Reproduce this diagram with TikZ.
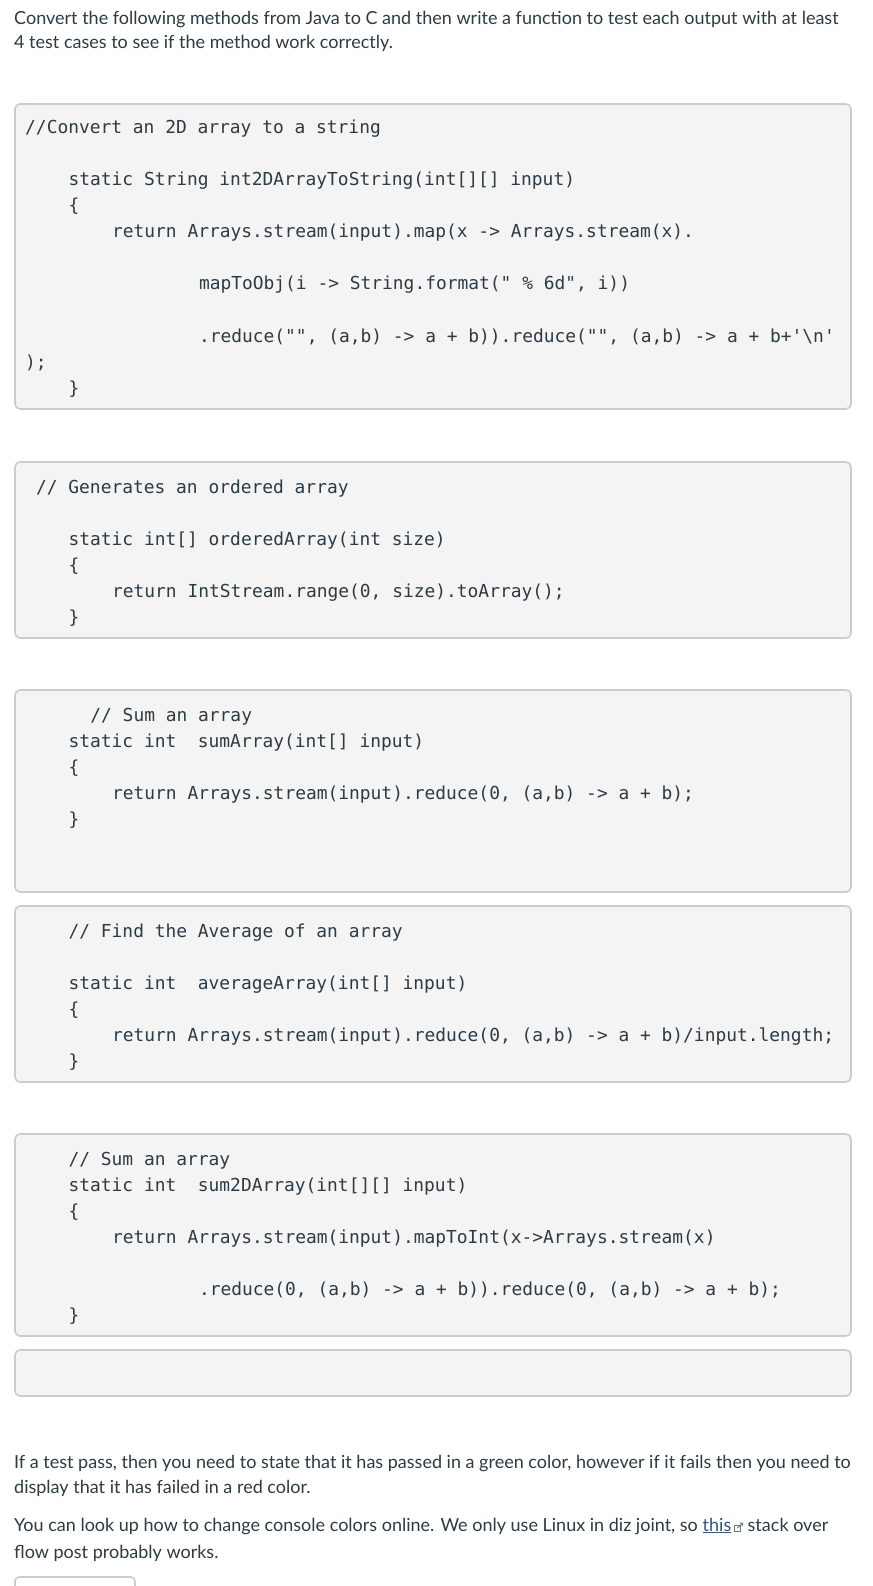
\documentclass[tikz,border=0pt]{standalone}
\usepackage{fontspec}
\setmainfont{Lato}
\setmonofont{DejaVu Sans Mono}
\usetikzlibrary{positioning}
\definecolor{ink}{HTML}{2D3B45}
\definecolor{codebg}{HTML}{F4F4F4}
\definecolor{codeedge}{HTML}{C7CDD1}
\definecolor{linkblue}{HTML}{2B5591}
\tikzstyle{codebox}=[draw=codeedge, fill=codebg, line width=1.6pt, rounded corners=5pt]
\tikzstyle{code}=[anchor=base west, inner sep=0pt, text=ink,
  font=\ttfamily\fontsize{17.9}{22}\selectfont]
\tikzstyle{para}=[anchor=base west, inner sep=0pt, text=ink,
  font=\fontsize{18}{24}\selectfont]

\begin{document}
\begin{tikzpicture}[x=1pt, y=-1pt]
  \useasboundingbox (0,0) rectangle (872,1586);
  \fill[white] (0,0) rectangle (872,1586);

  \node[para] (q1) at (14,25) {Convert the following methods from Java to C and then write a function to test each output with at least};
  \node[para] (q2) at (14,49) {4 test cases to see if the method work correctly.};

  % int2DArrayToString
  \draw[codebox] (15,104) rectangle (851,409);
  \node[code] (a0) at (25,134)    {//Convert an 2D array to a string};
  \node[code] (a2) at (68.4,186)  {static String int2DArrayToString(int[][] input)};
  \node[code] (a3) at (68.4,212)  {\{};
  \node[code] (a4) at (111.9,238) {return Arrays.stream(input).map(x -> Arrays.stream(x).};
  \node[code] (a6) at (198.8,290) {mapToObj(i -> String.format(" \% 6d", i))};
  \node[code] (a8) at (198.8,342) {.reduce("", (a,b) -> a + b)).reduce("", (a,b) -> a + b+'\textbackslash n'};
  \node[code] (a9) at (25,368)    {);};
  \node[code] (a10) at (68.4,394) {\}};

  % orderedArray
  \draw[codebox] (15,462) rectangle (851,638);
  \node[code] (b0) at (35.9,493)  {// Generates an ordered array};
  \node[code] (b2) at (68.4,545)  {static int[] orderedArray(int size)};
  \node[code] (b3) at (68.4,571)  {\{};
  \node[code] (b4) at (111.9,597) {return IntStream.range(0, size).toArray();};
  \node[code] (b5) at (68.4,623)  {\}};

  % sumArray
  \draw[codebox] (15,690) rectangle (851,892);
  \node[code] (c0) at (90.2,721)  {// Sum an array};
  \node[code] (c1) at (68.4,747)  {static int~~sumArray(int[] input)};
  \node[code] (c2) at (68.4,773)  {\{};
  \node[code] (c3) at (111.9,799) {return Arrays.stream(input).reduce(0, (a,b) -> a + b);};
  \node[code] (c4) at (68.4,825)  {\}};

  % averageArray
  \draw[codebox] (15,906) rectangle (851,1082);
  \node[code] (d0) at (68.4,937)   {// Find the Average of an array};
  \node[code] (d2) at (68.4,989)   {static int~~averageArray(int[] input)};
  \node[code] (d3) at (68.4,1015)  {\{};
  \node[code] (d4) at (111.9,1041) {return Arrays.stream(input).reduce(0, (a,b) -> a + b)/input.length;};
  \node[code] (d5) at (68.4,1067)  {\}};

  % sum2DArray
  \draw[codebox] (15,1134) rectangle (851,1336);
  \node[code] (e0) at (68.4,1165)  {// Sum an array};
  \node[code] (e1) at (68.4,1191)  {static int~~sum2DArray(int[][] input)};
  \node[code] (e2) at (68.4,1217)  {\{};
  \node[code] (e3) at (111.9,1243) {return Arrays.stream(input).mapToInt(x->Arrays.stream(x)};
  \node[code] (e5) at (198.8,1295) {.reduce(0, (a,b) -> a + b)).reduce(0, (a,b) -> a + b);};
  \node[code] (e6) at (68.4,1321)  {\}};

  % empty box
  \draw[codebox] (15,1350) rectangle (851,1396);

  \node[para] (r1) at (14,1468) {If a test pass, then you need to state that it has passed in a green color, however if it fails then you need to};
  \node[para] (r2) at (14,1493) {display that it has failed in a red color.};
  \node[para] (s1) at (14,1531) {You can look up how to change console colors online. We only use Linux in diz joint, so};
  \node[para, text=linkblue, right=4.5pt of s1.base east, anchor=base west] (lnk) {\underline{this}};
  \coordinate[right=3pt of lnk.base east] (ico);
  \draw[ink!70, line width=.8pt] (ico) rectangle ++(6,-6);
  \draw[ink!70, line width=.8pt] (ico) ++(3,-3) -- ++(5,-5) ++(-3,0) -- ++(3,0) -- ++(0,3);
  \node[para, right=13pt of ico, anchor=base west] (s2) {stack over};
  \node[para] (s3) at (14,1558) {flow post probably works.};

  % button, cut off
  \draw[codeedge, line width=1.6pt, fill=white, rounded corners=4pt] (15,1577) rectangle (135,1600);
\end{tikzpicture}
\end{document}
